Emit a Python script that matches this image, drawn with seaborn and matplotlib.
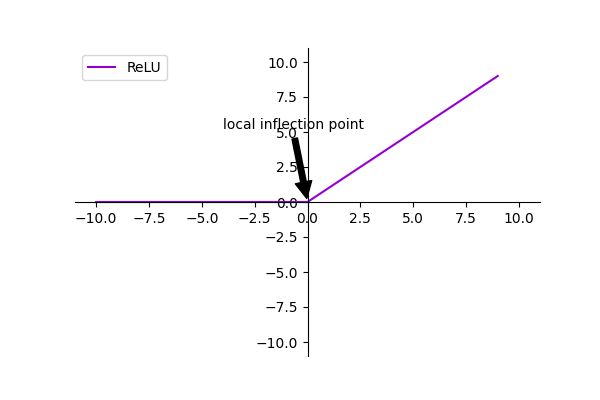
import pandas as pd
import matplotlib
matplotlib.use('Agg')
import matplotlib.pyplot as plt
import seaborn as sns

# ReLU sampled at integer points
x_vals = [-10, -9, -8, -7, -6, -5, -4, -3, -2, -1, 0, 1, 2, 3, 4, 5, 6, 7, 8, 9]
relu_vals = [0, 0, 0, 0, 0, 0, 0, 0, 0, 0, 0, 1, 2, 3, 4, 5, 6, 7, 8, 9]

df = pd.DataFrame({'x': x_vals, 'y': relu_vals})

fig, ax = plt.subplots(figsize=(6, 4), dpi=100)
sns.lineplot(data=df, x='x', y='y', color='darkviolet', label='ReLU', ax=ax)

ax.set_xlim(-11, 11)
ax.set_ylim(-11, 11)
ax.set_xlabel('')
ax.set_ylabel('')

# move spines to the origin
ax.spines['left'].set_position('zero')
ax.spines['bottom'].set_position('zero')
ax.spines['right'].set_visible(False)
ax.spines['top'].set_visible(False)

ax.annotate('local inflection point', xy=(0, 0), xytext=(-4, 5.2),
            arrowprops=dict(facecolor='black', shrink=0.05))

ax.legend(loc='upper left')
fig.savefig('out.png', dpi=100)
